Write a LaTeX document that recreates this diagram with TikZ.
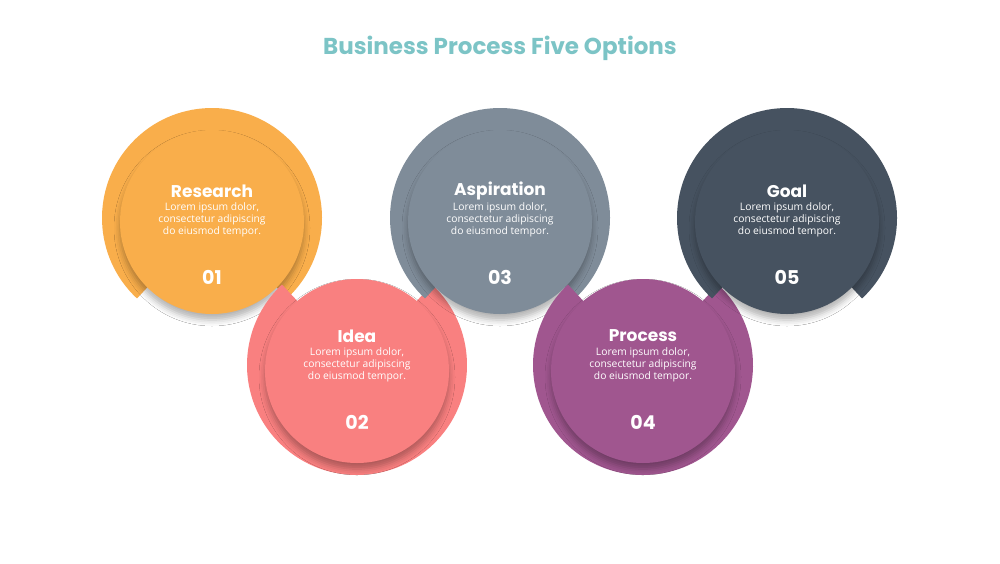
\documentclass[tikz,border=0pt]{standalone}
\usepackage{fontspec}
\setmainfont{Open Sans}
\newfontfamily\hfont{Poppins}
\usetikzlibrary{shadows.blur}
\definecolor{ttl}{HTML}{7CC4C6}
\definecolor{cA}{HTML}{F9AE4B}
\definecolor{cB}{HTML}{F98080}
\definecolor{cC}{HTML}{7F8C99}
\definecolor{cD}{HTML}{A0568F}
\definecolor{cE}{HTML}{465260}
\tikzset{
  hd/.style={text=white,font=\hfont\fontsize{17}{18}\selectfont\bfseries},
  bd/.style={text=white,font=\fontsize{10.3}{12}\selectfont,align=center},
  nm/.style={text=white,font=\hfont\fontsize{19}{20}\selectfont\bfseries},
  inner/.style={circle,minimum size=184pt,inner sep=0pt,blur shadow={shadow xshift=0pt,shadow yshift=-6pt,shadow blur radius=6pt,shadow opacity=30}},
}
% #1 x, #2 y outer center, #3 color, #4 start angle, #5 end angle, #6 inner dy, #7 name
\newcommand{\ring}[7]{%
  \fill[#3] (#1,#2) -- ++(#4:110) arc[start angle=#4,end angle=#5,radius=110] -- cycle;
  \node[inner,fill=#3] (#7) at (#1,#2+#6) {};
}
\begin{document}
\begin{tikzpicture}[x=1pt,y=-1pt]
\useasboundingbox (0,0) rectangle (1000,563);
\fill[white] (0,0) rectangle (1000,563);
\node[text=ttl,font=\hfont\fontsize{23}{25}\selectfont\bfseries] (title) at (500,48) {Business Process Five Options};
\ring{212}{218}{cA}{133}{407}{4}{c1}
\ring{357}{365}{cB}{-47}{227}{6}{c2}
\ring{500}{218}{cC}{133}{407}{4}{c3}
\ring{643}{365}{cD}{-47}{227}{6}{c4}
\ring{787}{218}{cE}{133}{407}{4}{c5}
\foreach \x/\y/\h/\n in {212/0/Research/01,357/145/Idea/02,500/0/Aspiration/03,643/145/Process/04,787/0/Goal/05}{
  \node[hd] (h\n) at (\x,191+\y) {\h};
  \node[bd] (b\n) at (\x,220+\y) {Lorem ipsum dolor,\\consectetur adipiscing\\do eiusmod tempor.};
  \node[nm] (n\n) at (\x,277+\y) {\n};
}
\end{tikzpicture}
\end{document}
